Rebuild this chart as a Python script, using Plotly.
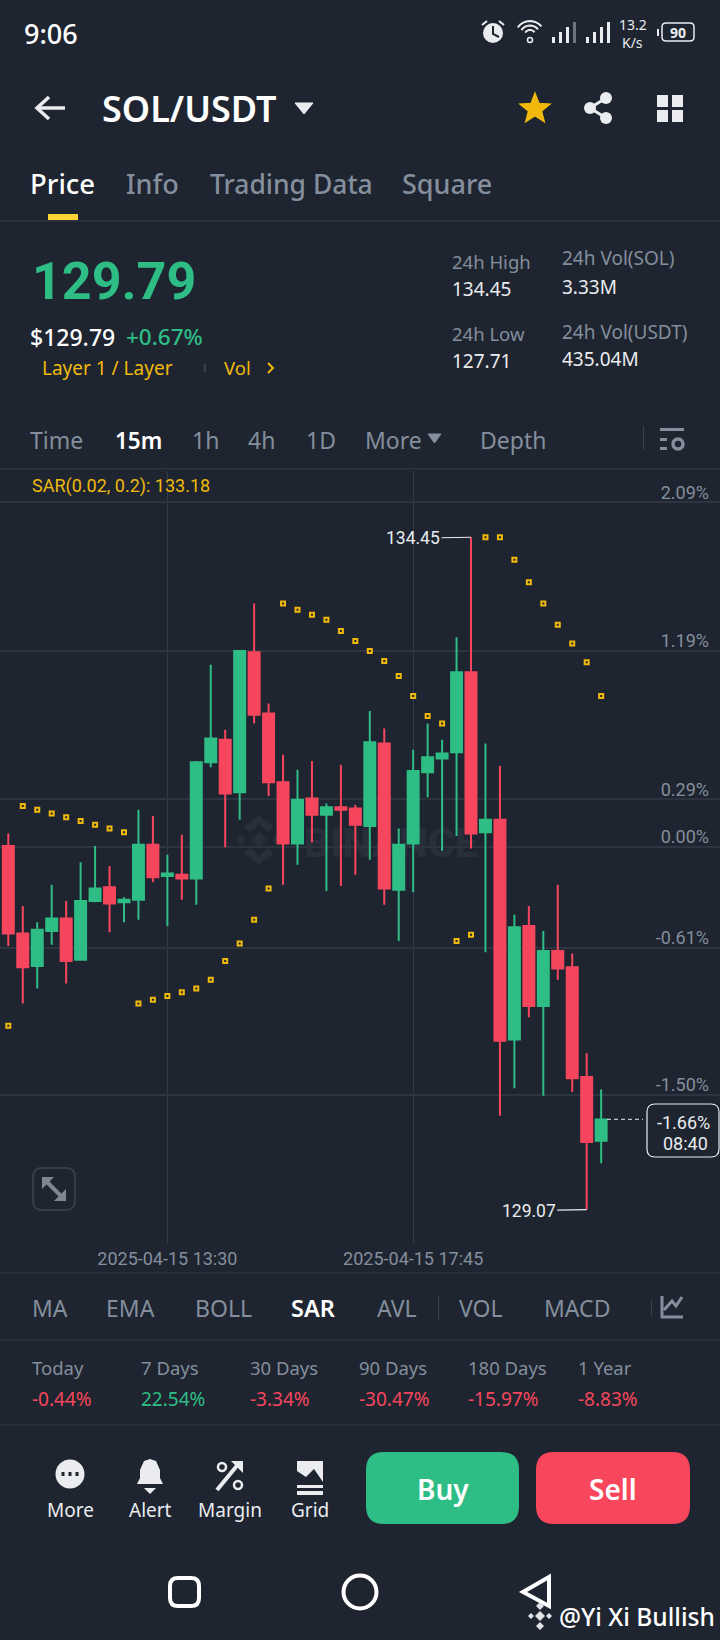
import math
import plotly.graph_objects as go

W = 720
H = 1640
BG = "#1e2530"
GREEN = "#2ebd85"
RED = "#f6465d"
YELLOW = "#f0b90b"
GREY = "#848e9c"
WHITE = "#eaecef"
LINE = "#2d3440"
UI = "Noto Sans"
NUM = "Roboto"

times = ["10:45", "11:00", "11:15", "11:30", "11:45", "12:00", "12:15", "12:30", "12:45", "13:00", "13:15", "13:30",
         "13:45", "14:00", "14:15", "14:30", "14:45", "15:00", "15:15", "15:30", "15:45", "16:00", "16:15", "16:30",
         "16:45", "17:00", "17:15", "17:30", "17:45", "18:00", "18:15", "18:30", "18:45", "19:00", "19:15", "19:30",
         "19:45", "20:00", "20:15", "20:30", "20:45", "21:00"]
opens = [131.98, 131.28, 131.02, 131.30, 131.40, 131.07, 131.54, 131.65, 131.53, 131.55, 131.99, 131.74,
         131.75, 131.72, 132.65, 132.83, 132.41, 133.53, 133.04, 132.49, 132.00, 132.36, 132.23, 132.29,
         132.28, 132.14, 132.80, 131.63, 132.00, 132.57, 132.68, 132.73, 133.37, 132.09, 132.19, 130.43,
         131.34, 130.70, 131.14, 131.01, 130.13, 129.62]
highs = [132.08, 131.50, 131.37, 131.67, 131.54, 131.85, 131.98, 131.82, 131.57, 132.27, 132.22, 131.91,
         132.07, 132.66, 133.43, 132.91, 133.54, 133.92, 133.12, 132.71, 132.59, 132.66, 132.32, 132.63,
         132.31, 133.06, 132.92, 132.12, 132.75, 132.96, 132.83, 133.65, 134.45, 132.80, 132.62, 131.43,
         131.50, 131.30, 131.67, 131.12, 130.32, 130.03]
lows = [131.18, 130.72, 130.84, 131.19, 130.88, 131.07, 131.53, 131.29, 131.37, 131.39, 131.69, 131.34,
        131.55, 131.51, 132.61, 131.97, 132.19, 132.96, 132.38, 131.67, 131.83, 132.01, 131.62, 131.66,
        131.75, 131.87, 131.51, 131.22, 131.61, 132.37, 131.94, 132.06, 131.96, 131.13, 129.82, 130.04,
        130.61, 129.98, 130.91, 130.01, 129.07, 129.44]
closes = [131.28, 131.01, 131.31, 131.40, 131.06, 131.54, 131.64, 131.52, 131.55, 131.99, 131.73, 131.76,
          131.72, 132.65, 132.84, 132.40, 133.54, 133.03, 132.49, 132.00, 132.35, 132.23, 132.29, 132.27,
          132.15, 132.81, 131.64, 131.99, 132.58, 132.69, 132.72, 133.37, 132.08, 132.19, 130.42, 131.33,
          130.70, 131.14, 131.00, 130.12, 129.61, 129.79]
sar = [130.54, 132.30, 132.27, 132.24, 132.21, 132.18, 132.15, 132.12, 132.09, 130.72, 130.75, 130.78,
       130.81, 130.84, 130.91, 131.06, 131.20, 131.39, 131.64, 133.92, 133.87, 133.83, 133.79, 133.70,
       133.62, 133.54, 133.46, 133.34, 133.18, 133.02, 132.96, 131.22, 131.27, 134.45, 134.45, 134.27,
       134.09, 133.92, 133.75, 133.60, 133.45, 133.18]
base_price = 131.97
pct_ticks = [2.09, 1.19, 0.29, 0.00, -0.61, -1.50, -2.40]
date_ticks = ["13:30", "17:45"]
day = "2025-04-15"
period_names = ["Today", "7 Days", "30 Days", "90 Days", "180 Days", "1 Year"]
period_values = [-0.44, 22.54, -3.34, -30.47, -15.97, -8.83]

fig = go.Figure()
dates = [day + " " + t for t in times]
fig.add_trace(go.Candlestick(
    x=dates, open=opens, high=highs, low=lows, close=closes, whiskerwidth=0,
    increasing=dict(line=dict(color=GREEN, width=2), fillcolor=GREEN),
    decreasing=dict(line=dict(color=RED, width=2), fillcolor=RED),
    showlegend=False, hoverinfo="skip"))
fig.add_trace(go.Scatter(
    x=dates, y=sar, mode="markers", showlegend=False, hoverinfo="skip",
    marker=dict(symbol="square", size=4, color=BG, line=dict(color=YELLOW, width=2))))


def px(x):
    return x / W


def py(y):
    return 1 - y / H


def txt(x, y, s, size=19, color=GREY, anchor="left", font=UI, weight=400):
    fig.add_annotation(xref="paper", yref="paper", x=px(x), y=py(y), text=s, showarrow=False,
                       xanchor=anchor, yanchor="middle", borderpad=0, borderwidth=0,
                       font=dict(family=font, size=size, color=color, weight=weight))


def path(points, fill=None, line=None, width=2, close=True, layer="above"):
    d = "M" + " L".join(f"{px(a):.5f},{py(b):.5f}" for a, b in points) + (" Z" if close else "")
    fig.add_shape(type="path", xref="paper", yref="paper", path=d, fillcolor=fill or "rgba(0,0,0,0)",
                  line=dict(color=line or "rgba(0,0,0,0)", width=width if line else 0), layer=layer)


def rrect(x0, y0, x1, y1, r, fill=None, line=None, width=2):
    c = [(x0 + r, y0), (x1 - r, y0), (x1, y0), (x1, y0 + r), (x1, y1 - r), (x1, y1), (x1 - r, y1), (x0 + r, y1),
         (x0, y1), (x0, y1 - r), (x0, y0 + r), (x0, y0)]
    p = [(px(a), py(b)) for a, b in c]
    d = f"M{p[0][0]:.5f},{p[0][1]:.5f} L{p[1][0]:.5f},{p[1][1]:.5f} Q{p[2][0]:.5f},{p[2][1]:.5f} {p[3][0]:.5f},{p[3][1]:.5f}"
    d += f" L{p[4][0]:.5f},{p[4][1]:.5f} Q{p[5][0]:.5f},{p[5][1]:.5f} {p[6][0]:.5f},{p[6][1]:.5f}"
    d += f" L{p[7][0]:.5f},{p[7][1]:.5f} Q{p[8][0]:.5f},{p[8][1]:.5f} {p[9][0]:.5f},{p[9][1]:.5f}"
    d += f" L{p[10][0]:.5f},{p[10][1]:.5f} Q{p[11][0]:.5f},{p[11][1]:.5f} {p[0][0]:.5f},{p[0][1]:.5f} Z"
    fig.add_shape(type="path", xref="paper", yref="paper", path=d, fillcolor=fill or "rgba(0,0,0,0)",
                  line=dict(color=line or "rgba(0,0,0,0)", width=width if line else 0))


def rect(x0, y0, x1, y1, fill):
    fig.add_shape(type="rect", xref="paper", yref="paper", x0=px(x0), x1=px(x1), y0=py(y0), y1=py(y1),
                  fillcolor=fill, line=dict(width=0))


def circle(cx, cy, r, fill=None, line=None, width=2):
    fig.add_shape(type="circle", xref="paper", yref="paper", x0=px(cx - r), x1=px(cx + r), y0=py(cy - r), y1=py(cy + r),
                  fillcolor=fill or "rgba(0,0,0,0)", line=dict(color=line or "rgba(0,0,0,0)", width=width if line else 0))


def hline(y, color=LINE, width=1.5):
    path([(0, y), (W, y)], line=color, width=width, close=False)


def diamond(cx, cy, r, fill, layer="above"):
    path([(cx, cy - r), (cx + r, cy), (cx, cy + r), (cx - r, cy)], fill=fill, layer=layer)


# status bar
txt(24, 33, "9:06", 27, "#ffffff", weight=500)
circle(493, 33, 10, fill=WHITE)
path([(493, 26), (493, 34), (499, 37)], line=BG, width=2, close=False)
path([(482, 25), (487, 21)], line=WHITE, close=False)
path([(499, 21), (504, 25)], line=WHITE, close=False)
for r, w in [(15, 2), (10.5, 2), (6, 2)]:
    pts = [(530 + r * math.cos(math.radians(a)), 36 + r * math.sin(math.radians(a))) for a in range(215, 330, 15)]
    path(pts, line=WHITE, width=w, close=False)
circle(530, 40, 2.5, line=WHITE, width=1.5)
for x0 in (552, 586):
    for i, top in enumerate([37, 32, 27, 22]):
        rect(x0 + i * 7, top, x0 + i * 7 + 3, 43, WHITE if i < 3 or x0 > 560 else "#6d7480")
txt(633, 24, "13.2", 14, WHITE, "center")
txt(632, 42, "K/s", 14, WHITE, "center")
rrect(662, 23, 694, 41, 4, line=WHITE, width=1.5)
rect(657, 29, 659, 36, WHITE)
txt(678, 32, "90", 14, WHITE, "center", weight=700)

# header
path([(65, 108), (38, 108)], line=WHITE, width=3.5, close=False)
path([(49, 97), (37, 108), (49, 119)], line=WHITE, width=3.5, close=False)
txt(102, 109, "SOL/USDT", 36, "#ffffff", weight=600)
path([(295, 103), (313, 103), (304, 114)], fill=WHITE, line=WHITE, width=1)
star = []
for i in range(10):
    r = 15 if i % 2 == 0 else 6.5
    star.append((535 + r * math.sin(math.pi * i / 5), 109 - r * math.cos(math.pi * i / 5)))
path(star, fill=YELLOW, line=YELLOW, width=2)
path([(606, 98), (590, 108), (606, 118)], line=WHITE, width=3, close=False)
circle(606, 98, 6, fill=WHITE)
circle(590, 108, 6, fill=WHITE)
circle(606, 118, 6, fill=WHITE)
for x0, y0 in [(657, 95), (672, 95), (657, 110), (672, 110)]:
    rect(x0, y0, x0 + 11, y0 + 12, WHITE)

# tabs
txt(30, 184, "Price", 27.5, "#ffffff", weight=500)
txt(126, 184, "Info", 27, GREY, weight=500)
txt(210, 184, "Trading Data", 26.5, GREY, weight=500)
txt(402, 184, "Square", 27, GREY, weight=500)
rect(48, 214, 78, 220, "#fcd535")
hline(220.7)

# ticker block
txt(32, 282, "129.79", 52, GREEN, font=NUM, weight=700)
txt(30, 337, "$129.79", 23, "#ffffff", weight=500)
txt(126, 337, "+0.67%", 22.5, GREEN, weight=500)
txt(42, 368, "Layer 1 / Layer", 19, YELLOW)
rect(204, 364, 206, 372, "#3a414e")
txt(224, 368, "Vol", 18.5, YELLOW)
path([(268, 363), (273, 368), (268, 373)], line=YELLOW, width=2, close=False)
txt(452, 261, "24h High", 18.5)
txt(452, 289, "134.45", 19, WHITE)
txt(562, 258, "24h Vol(SOL)", 19)
txt(562, 287, "3.33M", 19, WHITE)
txt(452, 333, "24h Low", 18.5)
txt(452, 361, "127.71", 19, WHITE)
txt(562, 332, "24h Vol(USDT)", 19)
txt(562, 359, "435.04M", 19, WHITE)

# timeframe row
for x, s in [(30, "Time"), (192, "1h"), (248, "4h"), (306, "1D"), (365, "More"), (480, "Depth")]:
    txt(x, 440, s, 23)
txt(115, 440, "15m", 22.5, "#ffffff", weight=600)
path([(428, 434), (441, 434), (434.5, 443)], fill=GREY, line=GREY, width=1)
rect(643, 426, 644, 450, "#3a414e")
rect(660, 428, 684, 431, GREY)
rect(660, 438, 667, 441, GREY)
rect(660, 447, 667, 450, GREY)
circle(678, 444, 5, line=GREY, width=3.5)

# chart frame
hline(468.7)
txt(32, 486, "SAR(0.02, 0.2): 133.18", 18, YELLOW, font=NUM)
fig.add_shape(type="line", xref="paper", yref="y", x0=0, x1=1, y0=base_price, y1=base_price,
              line=dict(color="#575e6a", width=1.5), layer="below")

# watermark
for cx, cy, r in [(259, 840, 8), (241, 840, 5), (277, 840, 5)]:
    diamond(cx, cy, r, "#282f3b", layer="below")
path([(244, 827), (259, 815), (274, 827), (268, 832), (259, 824), (250, 832)], fill="#282f3b", layer="below")
path([(244, 853), (259, 865), (274, 853), (268, 848), (259, 856), (250, 848)], fill="#282f3b", layer="below")
fig.add_shape(type="rect", xref="paper", yref="paper", x0=px(296), x1=px(486), y0=py(858), y1=py(822),
              line=dict(width=0), layer="below",
              label=dict(text="BINANCE", textposition="middle center", font=dict(family=NUM, size=41, color="#282f3b", weight=700)))

# high, low and last price call-outs
fig.add_annotation(x=dates[highs.index(max(highs))], y=max(highs), text="134.45", ax=-58, ay=1, showarrow=True,
                   arrowhead=0, arrowcolor=WHITE, arrowwidth=1.2, standoff=0, font=dict(family=NUM, size=17.5, color=WHITE))
fig.add_annotation(x=dates[lows.index(min(lows))], y=min(lows), text="129.07", ax=-58, ay=1, showarrow=True,
                   arrowhead=0, arrowcolor=WHITE, arrowwidth=1.2, standoff=0, font=dict(family=NUM, size=17.5, color=WHITE))
path([(607, 1119.3), (643, 1119.3)], line=WHITE, width=1, close=False)
fig.layout.shapes[-1].line.dash = "4px,3px"
rrect(647, 1104, 719, 1157, 8, fill=BG, line=WHITE, width=1.2)
txt(683, 1122, "-1.66%", 18, WHITE, "center", font=NUM)
txt(685, 1143, "08:40", 18, WHITE, "center", font=NUM)

# expand button
rrect(33, 1168, 75, 1210, 9, line="#363d4a", width=2)
path([(42, 1177), (54, 1177), (42, 1189)], fill="#7f8691")
path([(66, 1201), (54, 1201), (66, 1189)], fill="#7f8691")
path([(46, 1181), (62, 1197)], line="#7f8691", width=4, close=False)

# indicators
hline(1273)
for x, s in [(32, "MA"), (106, "EMA"), (195, "BOLL"), (377, "AVL"), (459, "VOL"), (544, "MACD")]:
    txt(x, 1308, s, 23)
txt(291, 1308, "SAR", 23.5, "#ffffff", weight=600)
rect(438, 1296, 439, 1320, "#3a414e")
rect(651, 1300, 652, 1316, "#3a414e")
path([(662, 1296), (662, 1317), (683, 1317)], line=GREY, width=3, close=False)
path([(664, 1310), (672, 1301), (676, 1306), (682, 1297)], line=GREY, width=3, close=False)
hline(1340)

# period returns
for x, name, v in zip([32, 141, 250, 359, 468, 578], period_names, period_values):
    txt(x, 1367, name, 18.5)
    txt(x, 1399, f"{v:.2f}%", 19, GREEN if v > 0 else RED)
hline(1425)

# toolbar
circle(70, 1474, 14.5, fill=WHITE)
for x in (63, 70, 77):
    rect(x - 1.5, 1472, x + 1.5, 1476, BG)
path([(137, 1484), (140, 1478), (140, 1470), (144, 1461), (150, 1459), (156, 1461), (160, 1470), (160, 1478), (163, 1484)], fill=WHITE)
path([(144, 1488), (156, 1488), (150, 1494)], fill=WHITE)
path([(217, 1490), (240, 1462)], line=WHITE, width=4, close=False)
path([(231, 1461), (243, 1461), (243, 1473)], fill=WHITE)
circle(222, 1467, 4, line=WHITE, width=2.5)
circle(238, 1485, 4, line=WHITE, width=2.5)
path([(297, 1461), (323, 1461), (323, 1482), (314, 1469), (306, 1477), (297, 1471)], fill=WHITE)
rect(297, 1485, 323, 1488, WHITE)
rect(297, 1491, 323, 1495, WHITE)
for x, s in [(70, "More"), (150, "Alert"), (230.5, "Margin"), (309.5, "Grid")]:
    txt(x, 1510, s, 19, WHITE, "center")
rrect(366, 1452, 519, 1524, 18, fill=GREEN)
rrect(536, 1452, 690, 1524, 18, fill="#f8465d")
txt(443, 1489, "Buy", 28, "#ffffff", "center", weight=600)
txt(613, 1489, "Sell", 28, "#ffffff", "center", weight=600)

# navigation bar and watermark
rrect(170, 1578, 199, 1606, 8, line="#ffffff", width=4)
circle(360, 1592, 16.5, line="#ffffff", width=4)
path([(549, 1577), (523, 1592), (549, 1606)], line="#ffffff", width=4)
for cx, cy, r in [(540, 1616, 5), (531, 1616, 3), (549, 1616, 3), (540, 1606, 4), (540, 1626, 4)]:
    diamond(cx, cy, r, "#dfe2e6")
txt(559, 1616, "@Yi Xi Bullish", 24.5, "#ffffff", weight=500)

fig.update_layout(
    width=W, height=H, margin=dict(l=0, r=0, t=0, b=0), paper_bgcolor=BG, plot_bgcolor=BG,
    boxgap=0.24, boxgroupgap=0,
    xaxis=dict(domain=[0, 1], range=[day + " 10:36:22", day + " 23:03:18"], rangeslider=dict(visible=False),
               tickmode="array", tickvals=[day + " " + t for t in date_ticks], ticktext=[day + " " + t for t in date_ticks],
               showgrid=True, gridcolor="#343b47", gridwidth=1, showline=False, ticklabelstandoff=3,
               ticks="", tickfont=dict(family=NUM, size=18, color=GREY), zeroline=False),
    yaxis=dict(domain=[1 - 1243.2 / H, 1 - 470.5 / H], range=[128.801, 134.984], side="right",
               tickmode="array", tickvals=[base_price * (1 + p / 100) for p in pct_ticks],
               ticktext=[f"{p:.2f}%" for p in pct_ticks], ticklabelposition="inside", ticklabelshift=-10,
               ticklabelstandoff=8, showgrid=True, gridcolor=LINE, gridwidth=1.5, ticks="", zeroline=False,
               tickfont=dict(family=NUM, size=18, color=GREY)),
)

fig.write_html("out.html", config=dict(displayModeBar=False), post_script="document.body.style.margin='0';")
